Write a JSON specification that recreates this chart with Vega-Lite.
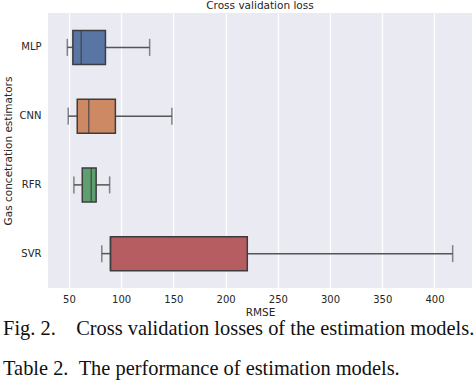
{
  "$schema": "https://vega.github.io/schema/vega-lite/v6.json",
  "padding": {"left": 3, "top": 0, "right": 0, "bottom": 0},
  "background": "white",
  "config": {
    "view": {"fill": "#EAEAF2", "stroke": null},
    "font": "DejaVu Sans"
  },
  "title": {
    "text": "Fig. 2.\u00a0\u00a0\u00a0\u00a0Cross validation losses of the estimation models.",
    "subtitle": "Table 2.\u00a0\u00a0The performance of estimation models.",
    "orient": "bottom",
    "anchor": "start",
    "font": "Liberation Serif",
    "fontSize": 20.4,
    "fontWeight": "normal",
    "color": "#111111",
    "subtitleFont": "Liberation Serif",
    "subtitleFontSize": 20.4,
    "subtitleColor": "#111111",
    "subtitlePadding": 20.5,
    "offset": 1
  },
  "vconcat": [
    {
      "width": 424,
      "height": 275,
      "title": {
        "text": "Cross validation loss",
        "fontSize": 10.5,
        "fontWeight": "normal",
        "color": "#262626",
        "offset": 2
      },
      "data": {
        "values": [
          {"model": "MLP", "min": 48.5, "q1": 53.8, "median": 61.8, "q3": 85.0, "max": 127.3},
          {"model": "CNN", "min": 49.4, "q1": 58.0, "median": 69.0, "q3": 94.5, "max": 148.6},
          {"model": "RFR", "min": 54.8, "q1": 62.8, "median": 71.4, "q3": 76.1, "max": 89.0},
          {"model": "SVR", "min": 81.5, "q1": 89.8, "median": 89.8, "q3": 220.8, "max": 417.4}
        ]
      },
      "encoding": {
        "y": {
          "field": "model",
          "type": "nominal",
          "sort": ["MLP", "CNN", "RFR", "SVR"],
          "scale": {"paddingInner": 0, "paddingOuter": 0},
          "axis": {
            "title": "Gas concetration estimators",
            "titleFontSize": 10.5,
            "titleFontWeight": "normal",
            "titleColor": "#262626",
            "titlePadding": 6,
            "labelFontSize": 10,
            "labelColor": "#262626",
            "labelPadding": 7,
            "domain": false,
            "ticks": false,
            "grid": false
          }
        }
      },
      "layer": [
        {
          "mark": {"type": "rule", "color": "#555555", "strokeWidth": 1.5},
          "encoding": {
            "x": {
              "field": "min",
              "type": "quantitative",
              "scale": {"domain": [30.0, 435.9], "nice": false, "zero": false},
              "axis": {
                "title": "RMSE",
                "titleFontSize": 10.5,
                "titleFontWeight": "normal",
                "titleColor": "#262626",
                "titlePadding": 3,
                "values": [50, 100, 150, 200, 250, 300, 350, 400],
                "labelFontSize": 10,
                "labelColor": "#262626",
                "labelPadding": 6,
                "domain": false,
                "ticks": false,
                "grid": true,
                "gridColor": "white",
                "gridWidth": 1.2
              }
            },
            "x2": {"field": "q1"}
          }
        },
        {
          "mark": {"type": "rule", "color": "#555555", "strokeWidth": 1.5},
          "encoding": {
            "x": {"field": "q3", "type": "quantitative"},
            "x2": {"field": "max"}
          }
        },
        {
          "mark": {"type": "tick", "color": "#555555", "size": 17, "thickness": 1.5},
          "encoding": {"x": {"field": "min", "type": "quantitative"}}
        },
        {
          "mark": {"type": "tick", "color": "#555555", "size": 17, "thickness": 1.5},
          "encoding": {"x": {"field": "max", "type": "quantitative"}}
        },
        {
          "mark": {"type": "bar", "size": 34, "stroke": "#3d3d3d", "strokeWidth": 1.5},
          "encoding": {
            "x": {"field": "q1", "type": "quantitative"},
            "x2": {"field": "q3"},
            "color": {
              "field": "model",
              "type": "nominal",
              "scale": {"domain": ["MLP", "CNN", "RFR", "SVR"], "range": ["#5975a4", "#cc8963", "#5f9e6e", "#b55d60"]},
              "legend": null
            }
          }
        },
        {
          "mark": {"type": "tick", "color": "#3d3d3d", "size": 34, "thickness": 1.5},
          "encoding": {"x": {"field": "median", "type": "quantitative"}}
        }
      ]
    }
  ]
}
